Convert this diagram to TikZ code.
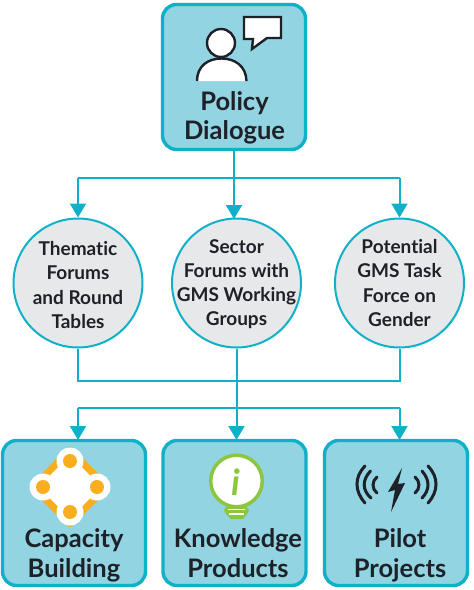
\documentclass[tikz,border=0pt]{standalone}
\usepackage{fontspec}
\setmainfont{Lato}[Ligatures=NoCommon]
\usetikzlibrary{arrows.meta}
\definecolor{teal1}{HTML}{0FB1C9}
\definecolor{boxfill}{HTML}{92D4E2}
\definecolor{circfill}{HTML}{E7E8EA}
\definecolor{ink}{HTML}{1E2128}
\definecolor{orng}{HTML}{F9AE1F}
\definecolor{lime}{HTML}{8CC63F}
\tikzset{
  x=1pt,y=-1pt,
  panel/.style={draw=teal1,fill=boxfill,line width=3.4pt,rounded corners=14pt,minimum width=143pt,minimum height=145pt,inner sep=0pt},
  forum/.style={circle,draw=teal1,fill=circfill,line width=2pt,minimum size=129pt,inner sep=0pt},
  bigtext/.style={text=ink,font=\fontsize{25.5}{30}\selectfont\bfseries,align=center,inner sep=0pt},
  toptext/.style={text=ink,font=\fontsize{25.5}{28.5}\selectfont\bfseries,align=center,inner sep=0pt},
  smalltext/.style={text=ink,font=\fontsize{19}{24.2}\selectfont\bfseries,align=center,inner sep=0pt},
  link/.style={draw=teal1,line width=2pt},
  tip/.style={link,-{Triangle[length=14pt,width=16pt,fill=teal1]}},
}
\begin{document}
\begin{tikzpicture}
\useasboundingbox (0,0) rectangle (474,590);
\fill[white] (0,0) rectangle (474,590);
% nodes
\node[panel] (top) at (234,77) {};
\node[forum] (c1) at (78,283) {};
\node[forum] (c2) at (236.5,283) {};
\node[forum] (c3) at (399.5,283) {};
\node[panel] (b1) at (74,513) {};
\node[panel] (b2) at (234.5,513) {};
\node[panel] (b3) at (396,513) {};
% junctions
\coordinate (u1) at (78,178);
\coordinate (u3) at (399.5,178);
\coordinate (m1) at (78,381);
\coordinate (m3) at (399.5,381);
\coordinate (d1) at (78,408);
\coordinate (d3) at (399.5,408);
\coordinate (s1) at (78,349);
\coordinate (s3) at (399.5,349);
\coordinate (e2) at (234,219);
\coordinate (e4) at (236.5,440);
\coordinate (e3) at (78,440);
\coordinate (e5) at (399.5,440);
% connectors
\draw[link] (u1) -- (u3);
\draw[tip] (top.south) -- (e2);
\draw[tip] (u1) -- (c1.north);
\draw[tip] (u3) -- (c3.north);
\draw[link] (s1) -- (m1) -- (m3) -- (s3);
\draw[link] (d1) -- (d3);
\draw[tip] (c2.south) -- (e4);
\draw[tip] (d1) -- (e3);
\draw[tip] (d3) -- (e5);
% labels
\node[toptext] (t0) at (234.5,118) {Policy\\Dialogue};
\node[smalltext] (t1) at (78,285) {Thematic\\Forums\\and Round\\Tables};
\node[smalltext] (t2) at (236.5,284) {Sector\\Forums with\\GMS Working\\Groups};
\node[smalltext] (t3) at (399.5,283) {Potential\\GMS Task\\Force on\\Gender};
\node[bigtext] (t4) at (74,555) {Capacity\\Building};
\node[bigtext] (t5) at (238,553.5) {Knowledge\\Products};
\node[bigtext] (t6) at (400,555.5) {Pilot\\Projects};
% person icon
\draw[ink,line width=2.4pt,fill=white] (221,43) circle (14);
\fill[white] (197,81) .. controls (197,66) and (208,58.5) .. (221.5,58.5) .. controls (235,58.5) and (246,66) .. (246.5,81) -- cycle;
\draw[ink,line width=2.4pt] (197,81) .. controls (197,66) and (208,58.5) .. (221.5,58.5) .. controls (235,58.5) and (246,66) .. (246.5,81);
\draw[ink,line width=2.4pt,fill=white,line join=miter] (244,17) -- (281,17) -- (281,38) -- (267,38) -- (252,49) -- (253,39) -- (244,39) -- cycle;
% capacity icon
\draw[orng,fill=white,line width=7pt,line join=round] (70,450) -- (106.5,487) -- (70,523.5) -- (33.5,487) -- cycle;
\fill[white] (70,461) circle (13.5) (43,487) circle (13.5) (97,487) circle (13.5) (70,512) circle (13.5);
\fill[orng] (70,461) circle (7) (43,487) circle (7) (97,487) circle (7) (70,512) circle (7);
% bulb
\fill[lime] (228,505) -- (245,505) -- (249,510) -- (247,514) -- (243,519) -- (231,519) -- (226,514) -- (224,510) -- cycle;
\draw[lime,line width=3.5pt,fill=white] (236.5,481) circle (25.8);
\fill[white] (228,508.7) rectangle (245,510.2);
\fill[white] (229,513.2) rectangle (244,514.7);
\node[text=lime,font=\fontsize{36}{36}\selectfont\bfseries\itshape,inner sep=0pt] (bi) at (236,482) {i};
% signal icon
\begin{scope}[ink,line width=3pt,line cap=round]
\draw (365,466) .. controls (354.3,477) and (354.3,491) .. (365,503);
\draw (370.5,471) .. controls (362,480) and (362,490) .. (371,498);
\draw (377,477) .. controls (371.7,481) and (371.7,489) .. (377,493);
\draw (428,466) .. controls (438.7,477) and (438.7,491) .. (428,503);
\draw (422,471) .. controls (430,480) and (430,490) .. (422,498);
\draw (415,477) .. controls (420.3,481) and (420.3,489) .. (415,493);
\end{scope}
\fill[ink] (402,468) -- (388,492) -- (395,490) -- (391,512) -- (405,483) -- (398,484) -- cycle;
\end{tikzpicture}
\end{document}
